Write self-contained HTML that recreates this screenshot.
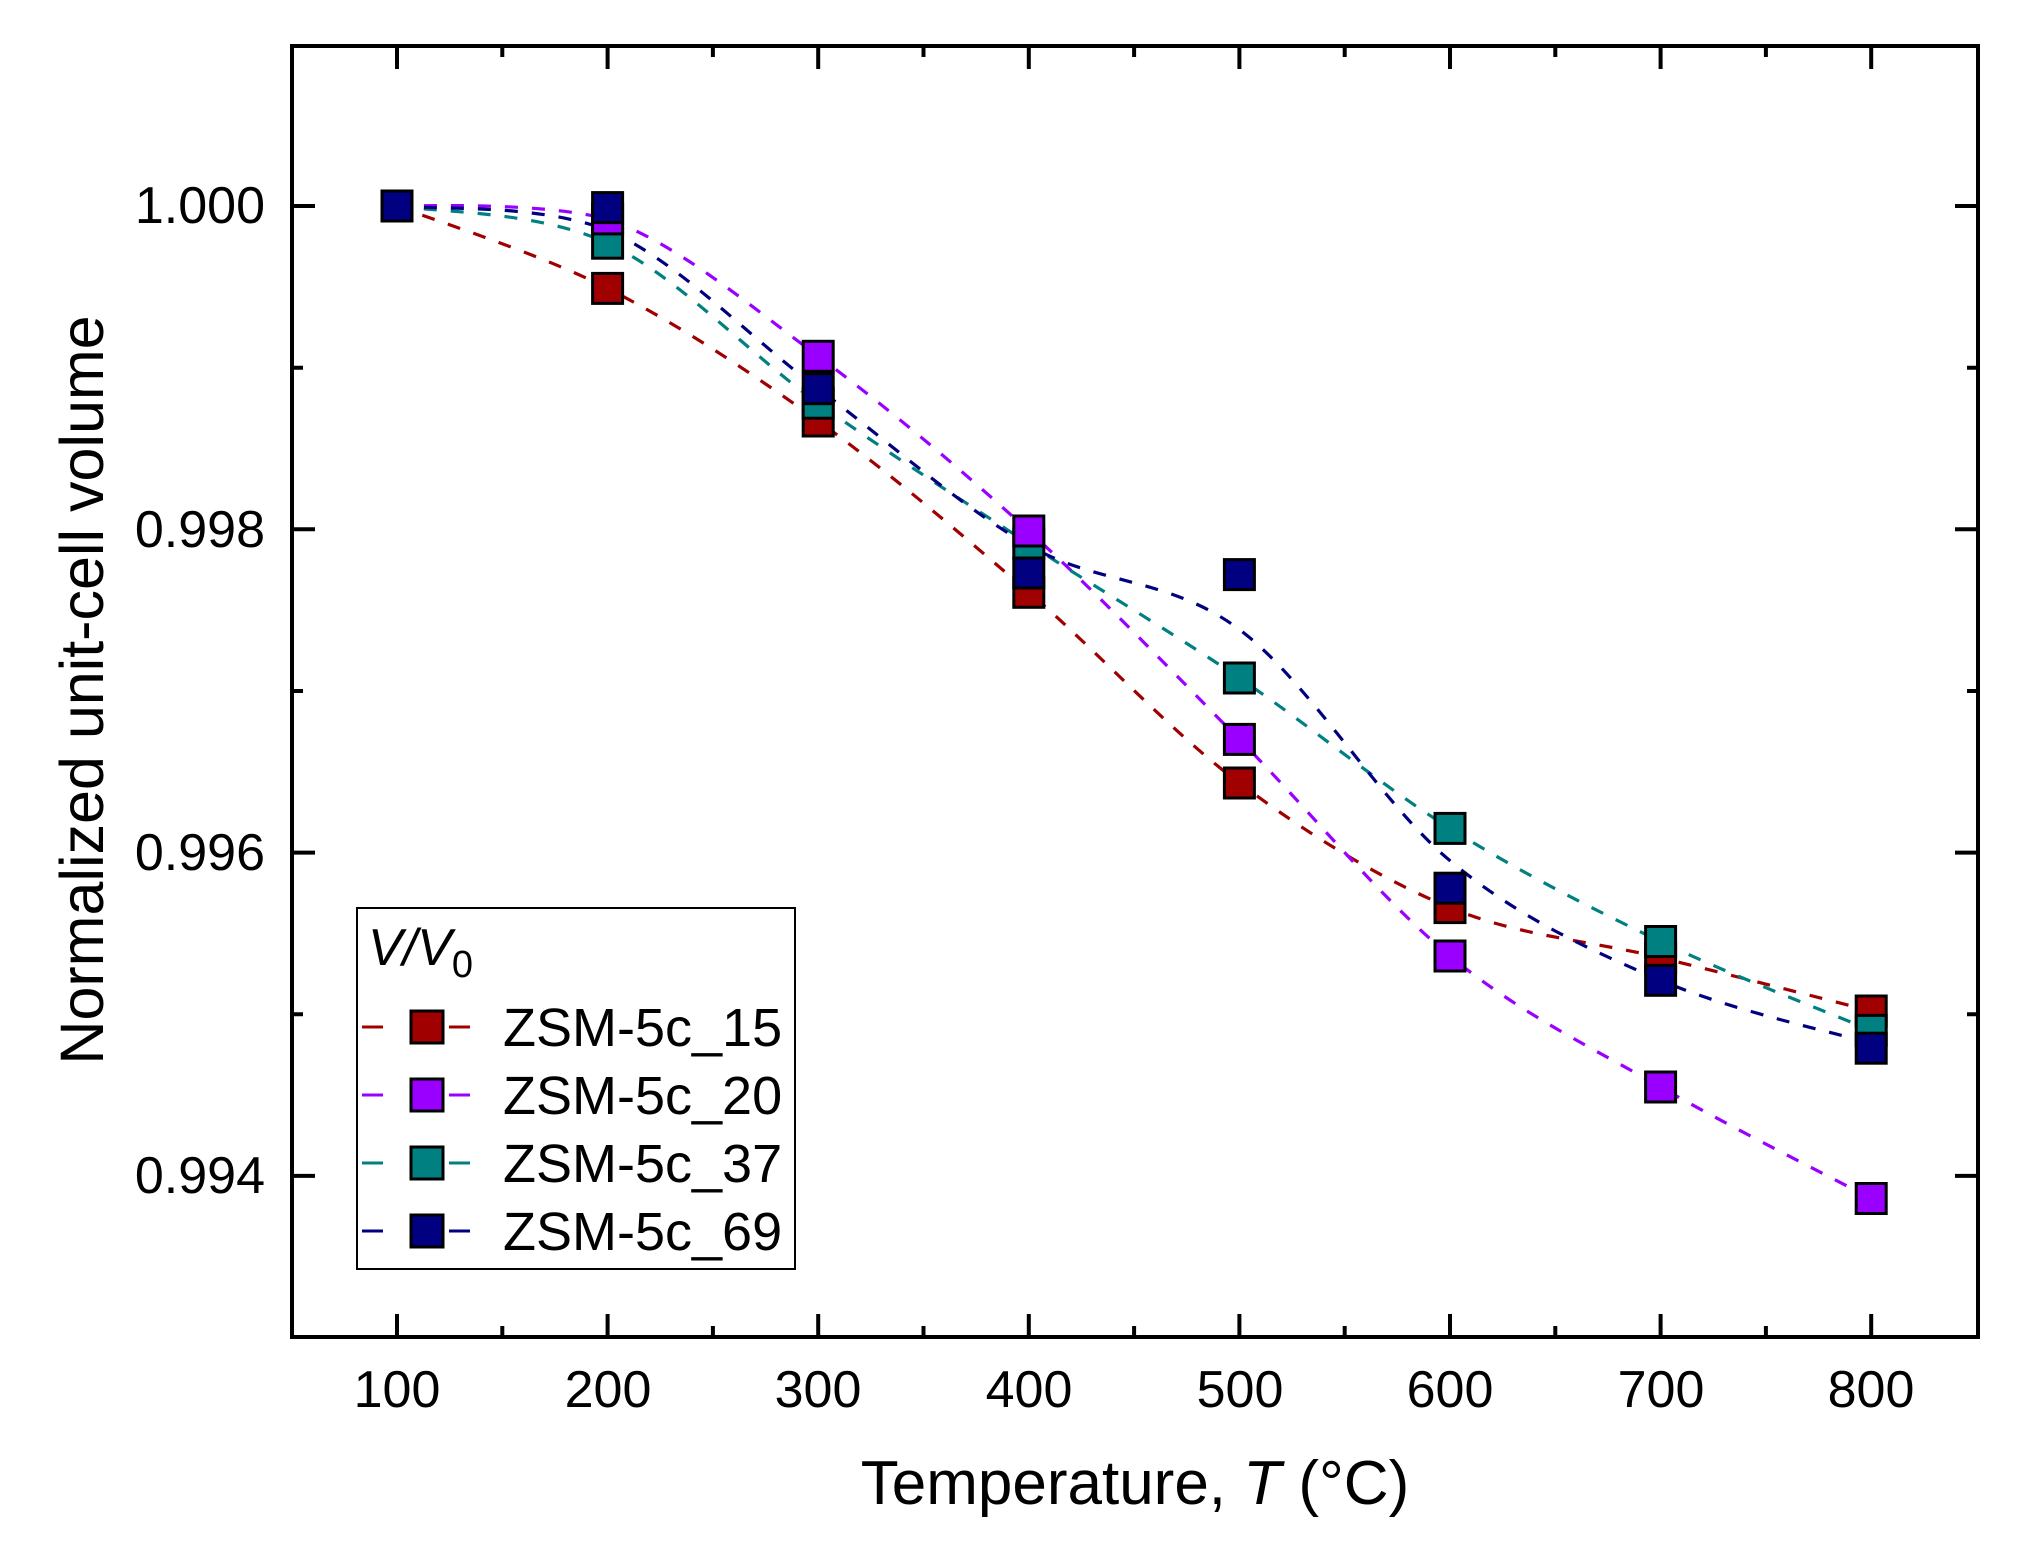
<!DOCTYPE html>
<html><head><meta charset="utf-8"><style>
html,body{margin:0;padding:0;background:#fff;}
svg{display:block;}
text{font-family:"Liberation Sans",Arial,sans-serif;fill:#000;}
</style></head><body>
<svg width="2040" height="1546" viewBox="0 0 2040 1546" xmlns="http://www.w3.org/2000/svg">
<rect width="2040" height="1546" fill="#fff"/>
<g fill="none" stroke-width="3.2" stroke-dasharray="13,14">
<path stroke="#a00000" d="M397,206 C432.1,219.7 537.4,252.6 607.6,288.4 C677.8,324.2 748,370.3 818.2,421 C888.4,471.7 958.6,532 1028.8,592.3 C1099,652.6 1169.2,730.4 1239.4,783 C1309.6,835.6 1379.8,878.5 1450,907.6 C1520.2,936.7 1590.4,940.5 1660.6,957.7 C1730.8,974.9 1836.1,1002.1 1871.2,1011"/>
<path stroke="#9a00ff" d="M397,206 C432.1,206 537.4,202 607.6,218.9 C677.8,243.9 748,304.3 818.2,356.3 C888.4,408.3 958.6,467.2 1028.8,531 C1099,594.8 1169.2,668.6 1239.4,739.4 C1309.6,810.2 1379.8,898.1 1450,956 C1520.2,1013.9 1590.4,1046.6 1660.6,1087 C1730.8,1127.4 1836.1,1179.9 1871.2,1198.5"/>
<path stroke="#008080" d="M397,206 C432.1,212.2 537.4,210.3 607.6,243.2 C677.8,276.1 748,353.1 818.2,403.2 C888.4,453.3 958.6,498 1028.8,543.8 C1099,589.6 1169.2,630.6 1239.4,678 C1309.6,725.4 1379.8,784.5 1450,828.4 C1520.2,872.3 1590.4,907.8 1660.6,941.5 C1730.8,975.2 1836.1,1015.6 1871.2,1030.4"/>
<path stroke="#000080" d="M397,206 C432.1,210 537.4,203 607.6,230.2 C677.8,260.7 748,336.2 818.2,388.7 C888.4,441.3 958.6,505.4 1028.8,545.5 C1099,585.6 1169.2,577 1239.4,629.5 C1309.6,682 1379.8,802.2 1450,860.7 C1520.2,919.2 1590.4,949.9 1660.6,980.3 C1730.8,1010.7 1836.1,1032.8 1871.2,1043.3"/>
</g>
<g stroke="#000" stroke-width="3">
<g fill="#a00000">
<rect x="382" y="191" width="30" height="30"/><rect x="592.6" y="273.4" width="30" height="30"/><rect x="803.2" y="406" width="30" height="30"/><rect x="1013.8" y="577.3" width="30" height="30"/><rect x="1224.4" y="768" width="30" height="30"/><rect x="1435" y="892.6" width="30" height="30"/><rect x="1645.6" y="942.7" width="30" height="30"/><rect x="1856.2" y="996" width="30" height="30"/>
</g>
<g fill="#008080">
<rect x="382" y="191" width="30" height="30"/><rect x="592.6" y="228.2" width="30" height="30"/><rect x="803.2" y="388.2" width="30" height="30"/><rect x="1013.8" y="528.8" width="30" height="30"/><rect x="1224.4" y="663" width="30" height="30"/><rect x="1435" y="813.4" width="30" height="30"/><rect x="1645.6" y="926.5" width="30" height="30"/><rect x="1856.2" y="1015.4" width="30" height="30"/>
</g>
<g fill="#9a00ff">
<rect x="382" y="191" width="30" height="30"/><rect x="592.6" y="203.9" width="30" height="30"/><rect x="803.2" y="341.3" width="30" height="30"/><rect x="1013.8" y="516" width="30" height="30"/><rect x="1224.4" y="724.4" width="30" height="30"/><rect x="1435" y="941" width="30" height="30"/><rect x="1645.6" y="1072" width="30" height="30"/><rect x="1856.2" y="1183.5" width="30" height="30"/>
</g>
<g fill="#000080">
<rect x="382" y="191" width="30" height="30"/><rect x="592.6" y="192.6" width="30" height="30"/><rect x="803.2" y="373.7" width="30" height="30"/><rect x="1013.8" y="558" width="30" height="30"/><rect x="1224.4" y="559.6" width="30" height="30"/><rect x="1435" y="873.2" width="30" height="30"/><rect x="1645.6" y="965.3" width="30" height="30"/><rect x="1856.2" y="1033.2" width="30" height="30"/>
</g>
</g>
<rect x="292" y="46" width="1686" height="1291" fill="none" stroke="#000" stroke-width="4"/>
<g stroke="#000" stroke-width="4">
<path d="M397,1337v-23M607.6,1337v-23M818.2,1337v-23M1028.8,1337v-23M1239.4,1337v-23M1450,1337v-23M1660.6,1337v-23M1871.2,1337v-23"/>
<path d="M502.3,1337v-11M712.9,1337v-11M923.5,1337v-11M1134.1,1337v-11M1344.7,1337v-11M1555.3,1337v-11M1765.9,1337v-11"/>
<path d="M397,46v23M607.6,46v23M818.2,46v23M1028.8,46v23M1239.4,46v23M1450,46v23M1660.6,46v23M1871.2,46v23"/>
<path d="M502.3,46v11M712.9,46v11M923.5,46v11M1134.1,46v11M1344.7,46v11M1555.3,46v11M1765.9,46v11"/>
<path d="M292,206h23M292,529.3h23M292,852.6h23M292,1175.9h23M1978,206h-23M1978,529.3h-23M1978,852.6h-23M1978,1175.9h-23"/>
<path d="M292,367.7h11M292,691h11M292,1014.3h11M1978,367.7h-11M1978,691h-11M1978,1014.3h-11"/>
</g>
<g font-size="52" text-anchor="middle">
<text x="397" y="1407">100</text><text x="608" y="1407">200</text><text x="818" y="1407">300</text><text x="1029" y="1407">400</text><text x="1240" y="1407">500</text><text x="1450" y="1407">600</text><text x="1661" y="1407">700</text><text x="1871" y="1407">800</text>
</g>
<g font-size="52" text-anchor="end">
<text x="265" y="223">1.000</text><text x="265" y="547">0.998</text><text x="265" y="870">0.996</text><text x="265" y="1193">0.994</text>
</g>
<text x="1135" y="1504" font-size="62" text-anchor="middle">Temperature, <tspan font-style="italic">T</tspan> (°C)</text>
<text transform="translate(103,690) rotate(-90)" font-size="61" text-anchor="middle">Normalized unit-cell volume</text>
<rect x="357" y="908" width="438" height="361" fill="#fff" stroke="#000" stroke-width="2"/>
<text x="368" y="965" font-size="52" font-style="italic">V/V<tspan font-style="normal" font-size="38" dy="12">0</tspan></text>
<g stroke-width="3">
<line x1="362" y1="1027" x2="383" y2="1027" stroke="#a00000"/><line x1="449" y1="1027" x2="470" y2="1027" stroke="#a00000"/>
<line x1="362" y1="1095" x2="383" y2="1095" stroke="#9a00ff"/><line x1="449" y1="1095" x2="470" y2="1095" stroke="#9a00ff"/>
<line x1="362" y1="1163" x2="383" y2="1163" stroke="#008080"/><line x1="449" y1="1163" x2="470" y2="1163" stroke="#008080"/>
<line x1="362" y1="1231" x2="383" y2="1231" stroke="#000080"/><line x1="449" y1="1231" x2="470" y2="1231" stroke="#000080"/>
<rect x="411" y="1011" width="32" height="32" fill="#a00000" stroke="#000"/>
<rect x="411" y="1079" width="32" height="32" fill="#9a00ff" stroke="#000"/>
<rect x="411" y="1147" width="32" height="32" fill="#008080" stroke="#000"/>
<rect x="411" y="1215" width="32" height="32" fill="#000080" stroke="#000"/>
</g>
<g font-size="54">
<text x="503" y="1046">ZSM-5c_15</text>
<text x="503" y="1114">ZSM-5c_20</text>
<text x="503" y="1182">ZSM-5c_37</text>
<text x="503" y="1250">ZSM-5c_69</text>
</g>
</svg>
</body></html>
